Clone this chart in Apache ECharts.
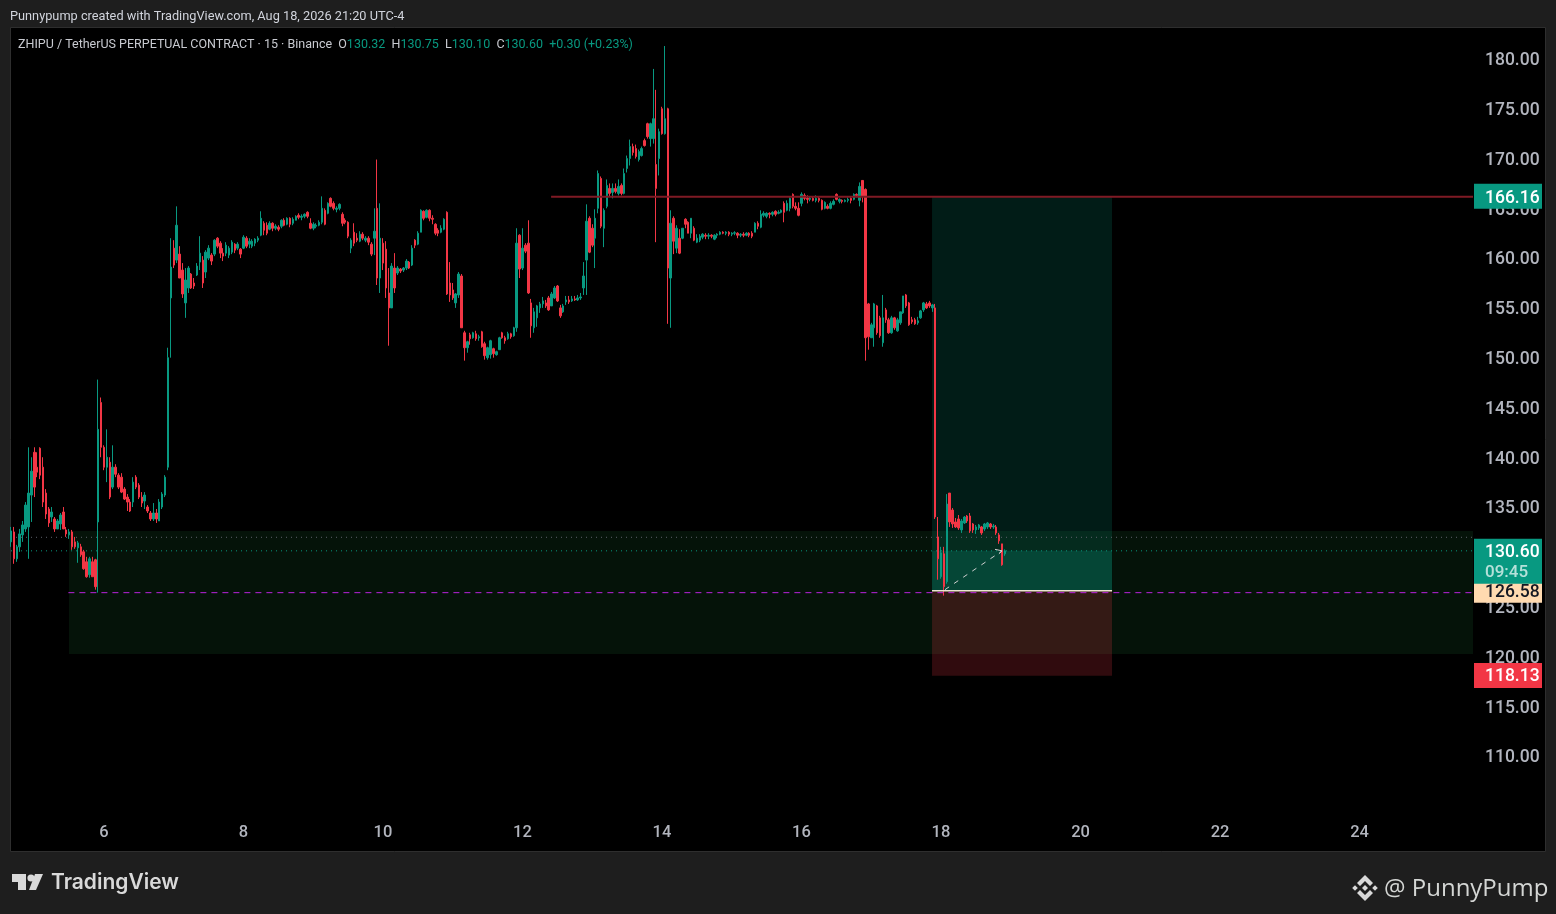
<!DOCTYPE html>
<html><head><meta charset="utf-8"><style>html,body{margin:0;padding:0;background:#1e1e1e}#c{width:1556px;height:914px}</style>
<script src="https://cdn.jsdelivr.net/npm/echarts@6/dist/echarts.min.js"></script></head><body><div id="c"></div>
<script>
const headerText = 'Punnypump created with TradingView.com, Aug 18, 2026 21:20 UTC-4';
const symbolText = 'ZHIPU / TetherUS PERPETUAL CONTRACT · 15 · Binance';
const ohlcText = [['O','130.32'],['H','130.75'],['L','130.10'],['C','130.60']];
const changeText = '+0.30 (+0.23%)';
const dayTicks = [6,8,10,12,14,16,18,20,22,24];
const priceTicks = [110,115,120,125,130,135,140,145,150,155,160,165,170,175,180];
const firstDay = 4.667, hoursPerDay = 24;
// hourly sampled [open, close, low, high]
const candles = [
[131.5,132.6,131,133],[132.5,129.8,129.3,133],[129.8,131,129.5,131.2],[131,132.3,130.5,132.8],[132.2,133.2,131.5,133.6],[132.8,135.2,132.5,135.5],[133,136.4,129.8,141],[136.2,138.6,133.5,140],[140.5,137,136,141],[139,138.5,138,140.5],[140.9,138.2,137.8,141],[139,135.5,135,140],[136.4,134.3,133.8,136.8],[134.8,133.4,133,135],[134,134.5,133.5,135],[133.8,132.8,132.5,134],[132.8,133.6,132.8,133.8],[133.3,134.2,132.7,134.4],[134.5,132.8,132.8,135],[132.7,132.3,132,133],[132.2,132.5,131.8,132.8],[132.5,131,130.7,132.7],[131.5,131,130.8,132],[130.9,131.4,129.4,131.6],[131,130.2,130,131.3],[130.5,128.8,128.7,130.7],[129.5,128,127.9,130],[128.2,129.8,127.9,130],[129.5,128,128,130],[129.7,127,126.7,129.8],[133.5,142.8,126.4,147.8],
[145.5,141,140,146],[141,139,138.7,141.2],[139,140,137.5,142.8],[139.5,136,135.8,140],[137,139,136.8,141.2],[139,138.3,138,139.3],[138.2,137,136.8,138.4],[138,136.5,136.4,138.4],[136.8,135.8,135.7,137],[136,135.5,134.6,136.3],[135.5,134.6,134.5,135.8],[135.5,137.5,135,138],[138,137,136.8,138.2],[137.2,136,135.8,137.4],[136,135.4,135,136.5],[135.6,136.2,134.8,136.5],[135,134.6,134.4,135.2],[134.4,133.8,133.6,134.6],[133.8,134.4,133.6,135.4],[134.4,133.8,133.4,134.8],[133.6,135.5,133.6,135.8],[135,136.3,134.8,136.5],[136.2,138,136,138.2],
[139,150,138.7,151],[156,159.1,150,162],[161,159.3,159,161.8],[159.8,163.3,159.5,165.2],[160.4,158,158,161.2],[158.8,156.4,156,159.5],[155.5,157.8,154,159],[157,159,156.5,159.2],[158.4,157,156.9,158.5],[157.5,157.2,156.9,158],[158.3,159.2,158.2,159.5],[159.6,160.5,158.8,162.2],[159.8,157.5,157,160.2],[158.6,160.6,158,160.8],[160,161,159.8,161.3],[160.3,159.7,159.3,160.5],[160.4,161.8,160.2,161.9],[162,161.2,161,162.1],[161.5,160.5,160,161.7],[160.5,160.2,159.7,161],[160.5,161.3,160.2,161.6],[160.3,161,160,161.2],[160.6,161.6,160.4,161.8],[161.4,160.8,160.5,161.5],[161,161.4,160.8,161.6],[160.9,160.4,160,161],[161,162.1,160.9,162.3],[162,161.2,161,162.2],[161.4,161.7,161,162],[161.2,161.7,161,161.9],[161.5,161.9,161.2,162],[161.8,162,161.6,162.2],
[162.3,164,162.2,164.7],[163.5,162.8,162.3,163.7],[163.3,162.5,162.3,163.6],[162.9,163.5,162.8,163.7],[163.5,163,162.7,163.6],[163,163.2,162.8,163.4],[163.1,162.9,162.7,163.3],[163.2,163.8,163,163.9],[163.8,163.3,163.2,164],[163.4,164,163.3,164.1],[164,163.4,163.1,164.1],[163.5,163.9,163.3,164.1],[163.8,164.2,163.8,164.3],[164.3,164.1,163.9,164.5],[164.1,164.2,163.8,164.4],[164.2,164.4,164,164.5],[164.6,164.2,164,164.7],[163.5,163,162.9,164],[163,163.4,162.8,163.6],[163.2,163.3,163,163.5],[163.3,163.6,163.2,163.8],[163.6,165,163.4,166.2],[164.8,163.4,163.3,165],[164.5,165.5,164.4,165.6],[166,165.2,165.1,166.1],[165.5,165,164.8,165.7],[164.9,165,164.6,165.2],[165,165.4,164.8,165.5],[164.4,163.5,163.2,164.6],[163.8,163.6,163.4,164],[163.6,162.2,162,163.7],[161,161.8,160.5,162],[162.6,161.5,161.2,163.5],[162,161.8,161.6,162.5],[161.7,162.4,161.6,162.7],[162.4,162,161.8,162.6],[161.8,162,161.6,162.2],[162,161.6,161.3,162.2],[161.4,160.4,160.2,161.6],[162,162.7,160.3,165],[165,158,157.3,169.9],[158,162,156.5,165.5],[161.5,159.5,158.8,162],[160.9,157,156,161.7],[156.5,155,151.2,159],
[155,159.2,155,159.5],[159,157,156.5,160.5],[158.5,159,158.3,159.2],[158.9,158.7,158.5,159],[158.8,159,158.6,159.1],[159,159.7,158.8,159.9],[159.6,159,158.9,159.7],[159.3,161,159.2,161.3],[161.8,161.3,161,161.9],[161.4,162.5,161.3,162.7],[162.6,164.8,162.6,164.9],[164.7,164,163.8,164.8],[164.1,164.8,164,164.9],[164.8,164,163.7,164.9],[164,163.9,163.4,164.3],[163.4,162.5,162.3,163.5],[162.8,162.5,162.2,163],[162.6,163,162.5,163.3],[162.9,163.9,162.8,164],
[164.6,156.4,156.3,164.7],[157.5,156.3,155.6,159.6],[156.8,156,155.8,157.5],[155.5,156.4,155,156.5],[156.3,158.4,156,158.6],[158.2,153,153,158.4],[152.5,151,149.7,152.7],[151,151.6,150.5,151.7],[152.3,151.9,151.3,152.5],[152,152.5,151.9,152.6],[152.4,151.9,151.7,152.7],[152,152.1,151.7,152.3],[152.6,151.1,151,152.7],[151.4,150.2,149.8,151.6],[150,151,149.8,151.1],[150.3,151.7,149.9,151.8],[150.9,150.4,150,151],[150.3,150.6,150.2,150.7],[150.8,152,150.8,152.1],[152.5,152,151.9,152.6],[152,151.7,151.4,152.2],[151.9,152.4,151.8,152.6],[152.4,152.1,151.9,152.5],[152.2,153,152.1,153.1],
[153,161.5,152.6,163],[162.3,158.9,158,162.4],[159,161,158.8,163],[161.3,160.7,160.5,161.5],[161.5,156.5,156.4,163.8],[155.5,153.2,152,155.9],[153,154.6,152.5,155],[154,155.2,153.1,155.3],[155,155.4,154.5,155.6],[155.4,155.7,155,156.1],[155.5,155.2,155,155.8],[156,154.8,154.7,156.2],[155.2,156.4,155.2,156.6],[156,157,155.9,157.2],[157.2,155.7,155.6,157.3],[155,154.2,154,155.3],[154.6,155.2,154.5,155.4],[155.6,155.8,155.3,156.2],[155.8,155.6,155.4,156.2],[155.7,155.9,155.6,156.2],[155.9,155.8,155.7,156.2],[155.8,156,155.7,156.3],[156,156.1,155.8,156.5],[157,158.2,156.3,159.6],
[159.8,163.7,156.3,165.4],[164,160.6,160.5,164.2],[163,161.3,161.1,163.4],[162,164,159,164.9],[165,168.5,164.5,168.8],[168,163.2,163,168.2],[163,164.8,161.1,165],[165.2,167.3,165,167.9],[167,166.5,166.2,167.5],[166.6,167,166,167.5],[167,166.7,166.5,167.5],[166.5,167.2,166.3,167.9],[167.3,166.5,166.3,167.5],[166.5,168.5,166.4,169],[169,170,168.6,170.3],[170,171.2,169.3,171.9],[171.2,170.6,170.3,171.5],[171,170.2,170,171.4],[169.9,170.7,169.7,170.9],[170.3,171,170.2,171.2],[171.8,171.3,171.2,172],[173.5,172.2,172,173.6],[172,173.5,171.2,173.6],[172,174,171.5,179],[169.4,167,161.6,176.9],[170,172.7,168.3,173],[175,172.5,172.4,175.2],[172.5,174,172.4,181.3],[175,159,153.4,175.1],[158,163.5,153,164.8],[164,161.7,160.4,164.2],[161,163,160.5,163.3],[162,160.5,160.4,162.9],[162,163,161.9,163],[163.9,163.4,163,164],[163.6,162.5,162.5,163.7],[162.5,164,162,164],[163,161.8,161.7,163.2],[161.6,162,161.5,162.4],[161.8,162.2,161.6,162.4],
[162.1,162.4,161.9,162.5],[162.3,162.2,161.9,162.5],[162.2,162.3,161.9,162.5],[162.3,162.2,162,162.4],[161.9,162.3,161.8,162.4],[162.3,162.4,162,162.5],[162.4,162.6,162.3,162.7],[162.6,162.5,162.4,162.7],[162.5,162.6,162.3,162.7],[162.6,162.4,162.2,162.7],[162.4,162.5,162.2,162.6],[162.5,162.55,162.3,162.7],[162.5,162.3,162,162.6],[162.3,162.4,162.1,162.5],[162.4,162.3,162.1,162.6],[162.3,162.5,162.2,162.6],[162.5,162.3,162.1,162.6],[162.5,162.2,162,162.7],[162.6,163.5,162.6,163.6],[163.5,163.2,162.9,163.7],[163.1,164.4,163,164.8],[164.3,164.5,164.1,164.7],[164.2,164.5,164,164.6],[164.5,164.4,164,164.6],[164.4,164.6,164.2,164.7],[164.7,164.4,164.2,164.8],[164.5,164.6,164.4,164.8],[164.6,164.8,164.5,164.9],[165.5,164.6,163.6,165.7],[164.8,165.5,164.7,165.8],[165,166,164.7,166.1],[166.4,165.2,165,166.5],[165.2,165,164.8,165.6],[165,164.3,164.2,165.6],[165.5,166.4,165.2,166.6],[166.3,166,165.8,166.5],[166,165.9,165.5,166.3],[165.9,166,165.7,166.2],[166,165.8,165.7,166.2],[165.8,166,165.6,166.3],[166,165.8,165.6,166.2],[165.8,164.9,164.8,165.9],[165,165.6,164.9,165.7],[165.2,165,164.9,165.4],[165,165.5,164.9,165.7],[165.4,165.7,165.3,165.9],[166.4,165.9,165.8,166.5],[165.7,165.9,165.5,166],[165.8,165.7,165.5,165.9],[165.7,165.8,165.6,165.9],[165.8,165.9,165.6,166.1],[166,165.8,165.5,166.1],[165.9,166.4,165.8,166.5],[166.4,166.3,166.1,166.5],[165.8,167.2,165.2,167.6],[167.8,166.2,165.6,167.8],
[166.9,152,149.7,167],[155.4,152.1,150.8,155.5],[152,153.3,152,153.5],[153,155.4,151.1,155.5],[155.2,152.5,152.3,155.3],[154,152.2,152,154.2],[151.5,154,151.1,156.3],[154.8,153.8,153.5,155],[153.8,152.5,152.4,154],[152.5,154,152.4,154.2],[154,153,152.8,154.1],[152.7,153.8,152.6,154],[153.5,154.6,153.3,154.6],[154.5,156.2,154.4,156.2],[156.3,155.2,155,156.4],[155.5,153.3,153.2,155.6],[153.8,153.6,153.4,154.1],[153.8,153.4,153.3,154],[153.5,153.7,153.3,154.1],[154,154.7,153.9,154.8],[154.8,155.5,154.6,155.6],[155.4,155,154.9,155.6],[155.5,155.2,155,155.7],[155,155.3,154.6,155.4],
[155,134,133.8,155.4],[132,129.8,127.7,134],[128,130.4,127.8,131],[130.3,127,126.1,131],[127.5,135.3,127.3,136.3],[136.4,133.5,133,136.4],[134.7,133.3,132.9,134.9],[133.5,133,132.9,133.9],[133.8,132.9,132.7,134.2],[132.7,133.6,132.4,133.8],[133.4,134,133.3,134.1],[134.1,133.6,133.4,134.2],[134.1,132.6,132.4,134.4],[133.3,132.7,132.4,133.4],[132.7,133,132.3,133.2],[132.9,133.2,132.7,133.3],[133,132.4,132.2,133.1],[132.8,133.3,132.6,133.4],[133,133.4,132.8,133.5],[133.3,133,132.8,133.4],[133,133.1,132.8,133.3],[133,132.4,132.2,133.2],[132.2,131.6,131.3,132.4],[131.3,129.2,129.1,131.3],[130.3,130.6,130.1,130.75]
];
const zones = [
  // dayFrom, dayTo, priceTop, priceBottom
  [5.498, 25.627, 132.6, 120.24],
  [17.871, 20.452, 166.16, 126.58],
  [17.871, 20.452, 130.60, 126.58],
  [17.871, 20.452, 126.58, 118.05]
];
const zoneColors = ['rgba(50,170,80,0.11)','rgba(8,153,129,0.18)','rgba(8,153,129,0.25)','rgba(242,54,69,0.2)'];
const resistanceLine = [[12.41,166.16],[25.627,166.16]];
const entryLine = [[17.871,126.58],[20.452,126.58]];
const supportLine = [[5.49,126.4],[25.627,126.4]];
const lastPriceLine = [[4.667,130.6],[25.627,130.6]];
const prevCloseLine = [[4.667,131.96],[25.627,131.96]];
const tradePath = [[18.057,126.7],[18.875,130.6]];
const tradeArrow = [[18.774,130.75],[18.875,130.6],[18.83,130.3]];
const priceTags = [
  {value:126.58, text:'126.58', bg:'#FFDAB0', fg:'#131722', top:12, h:24},
  {value:166.16, text:'166.16', bg:'#089981', fg:'#ffffff', top:13, h:25},
  {value:130.60, text:'130.60', sub:'09:45', bg:'#089981', fg:'#ffffff', top:12, h:45},
  {value:118.13, text:'118.13', bg:'#F23645', fg:'#ffffff', top:12, h:25}
];
const UP='#089981', DOWN='#F23645', AXIS='#b2b5be', FONT='Roboto';
const chart = echarts.init(document.getElementById('c'), null, {renderer:'canvas'});
const lineSeries = (name,data,color,width,dash,z)=>({name,type:'line',data,showSymbol:false,symbol:'none',silent:true,z,
  lineStyle:{color,width,type:dash},animation:false});
let legendStr = '{s|'+symbolText+'}  ';
ohlcText.forEach(([k,v])=>{legendStr += '{s|'+k+'}{v|'+v+'}  ';});
legendStr += '{v|'+changeText+'}';
const chevron = (cx,cy,s)=>[[cx,cy+s*13],[cx+8,cy+s*5],[cx+5,cy+s*2],[cx,cy+s*7],[cx-5,cy+s*2],[cx-8,cy+s*5]];
const diamond = (cx,cy,r)=>[[cx,cy-r],[cx+r,cy],[cx,cy+r],[cx-r,cy]];
const logoFill = '#d9d9d9';
const poly = (points,fill,z=5)=>({type:'polygon',shape:{points},style:{fill},z,silent:true});
const LEGEND_FONT = '12.5px '+FONT;
chart.setOption({
  animation:false,
  backgroundColor:'#1e1e1e',
  grid:{left:11,top:28,right:83,bottom:99,show:false},
  xAxis:{type:'value',min:4.667,max:25.627,splitLine:{show:false},axisLine:{show:false},axisTick:{show:false},
    axisLabel:{customValues:dayTicks,color:AXIS,fontFamily:FONT,fontWeight:500,fontSize:16.5,margin:9,formatter:v=>String(v)}},
  yAxis:{type:'value',position:'right',min:104.07,max:183.11,splitLine:{show:false},axisLine:{show:false},axisTick:{show:false},
    axisLabel:{customValues:priceTicks,margin:12,formatter:v=>'{p|'+v.toFixed(2)+'}',
      rich:{p:{color:AXIS,fontFamily:FONT,fontWeight:500,fontSize:17.5,padding:[4,0,0,0]}}}},
  graphic:[
    {type:'rect',shape:{x:10.5,y:27.5,width:1535,height:824},style:{fill:'#000',stroke:'#2e2e2e',lineWidth:1},z:-10,silent:true},
    {type:'text',x:10,y:10.5,style:{text:headerText,fill:'#d1d4dc',font:'12.75px '+FONT},silent:true,z:5},
    {type:'text',x:18,y:38.5,style:{text:legendStr,font:LEGEND_FONT,fill:'#d1d4dc',rich:{s:{fill:'#c8cad0',font:LEGEND_FONT},v:{fill:UP,font:LEGEND_FONT}}},silent:true,z:5},
    poly([[12,874],[26,874],[26,890],[18,890],[18,882],[12,882]],logoFill),
    {type:'circle',shape:{cx:31,cy:878,r:3.6},style:{fill:logoFill},silent:true,z:5},
    poly([[35,874],[43,874],[36,890],[29,890]],logoFill),
    {type:'text',x:51,y:872,style:{text:'TradingView',fill:logoFill,font:'600 21px Inter'},silent:true,z:5},
    poly(chevron(1365,888,-1),logoFill),poly(chevron(1365,888,1),logoFill),
    poly(diamond(1365,888,3),logoFill),poly(diamond(1355,888,2.8),logoFill),poly(diamond(1375,888,2.8),logoFill),
    {type:'text',x:1384,y:877,style:{text:'@ PunnyPump',fill:'#d4d6d4',font:'24px "Open Sans"'},silent:true,z:5}
  ],
  series:[
    {type:'custom',name:'zones',silent:true,z:1,clip:true,encode:{x:[0,1],y:[2,3]},data:zones.map((d,i)=>[...d,i]),
      renderItem:(p,api)=>{const a=api.coord([api.value(0),api.value(2)]),b=api.coord([api.value(1),api.value(3)]);
        return {type:'rect',shape:{x:a[0],y:a[1],width:b[0]-a[0],height:b[1]-a[1]},style:{fill:zoneColors[api.value(4)]}};}},
    lineSeries('prevClose',prevCloseLine,'#5d606b',1,[1,4],2),
    lineSeries('last',lastPriceLine,UP,1,[1,4],2),
    {type:'candlestick',name:'ZHIPU',z:3,clip:false,barWidth:2,silent:true,encode:{x:0,y:[1,2,3,4]},
      data:candles.map((c,i)=>[firstDay+i/hoursPerDay,...c]),
      itemStyle:{color:UP,color0:DOWN,borderColor:UP,borderColor0:DOWN,borderWidth:1}},
    lineSeries('resistance',resistanceLine,'#7f1a24',2,'solid',4),
    lineSeries('entry',entryLine,'#ece4d2',1.5,'solid',4),
    lineSeries('support',supportLine,'#bb22dd',1,[6,5],5),
    lineSeries('path',tradePath,'#d0d0d0',1,[5,6],5),
    lineSeries('arrow',tradeArrow,'#d0d0d0',1,'solid',5),
    {type:'custom',name:'tags',silent:true,z:20,clip:false,encode:{x:0,y:1},
      data:priceTags.map((t,i)=>[25.627,t.value,i]),
      renderItem:(p,api)=>{const t=priceTags[api.value(2)],c=api.coord([api.value(0),api.value(1)]);
        const left=c[0]+1, top=c[1]-t.top, kids=[
          {type:'rect',shape:{x:left,y:top,width:68,height:t.h},style:{fill:t.bg}},
          {type:'text',style:{x:left+11,y:c[1]+2,text:t.text,fill:t.fg,font:'500 17.5px '+FONT,textVerticalAlign:'middle'}}];
        if(t.sub) kids.push({type:'text',style:{x:left+11,y:c[1]+22,text:t.sub,fill:'rgba(255,255,255,0.7)',font:'500 17px '+FONT,textVerticalAlign:'middle'}});
        return {type:'group',children:kids};}}
  ]
});
</script></body></html>
